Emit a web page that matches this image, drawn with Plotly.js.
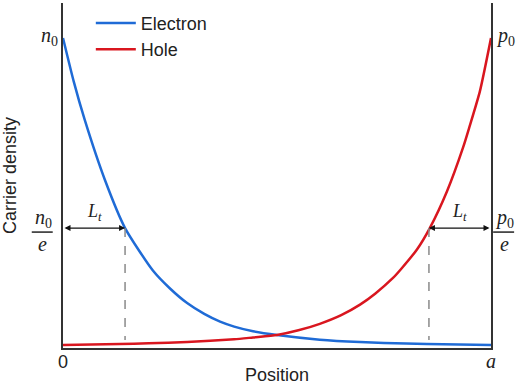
<!DOCTYPE html>
<html>
<head>
<meta charset="utf-8">
<script src="https://cdn.plot.ly/plotly-3.0.1.min.js"></script>
<style>html,body{margin:0;padding:0;background:#fff;}</style>
</head>
<body>
<div id="chart" style="width:520px;height:385px;"></div>
<script>
// Position axis: 0 .. a (normalised to 0..1); density normalised so n0 = p0 = 1
const posElectron = [0, 0.025, 0.051, 0.098, 0.145, 0.210, 0.250, 0.290, 0.330, 0.367, 0.400, 0.444, 0.500, 0.600, 0.694, 0.750, 0.850, 1.0];
const electron    = [1.0, 0.860, 0.735, 0.542, 0.387, 0.250, 0.192, 0.145, 0.110, 0.085, 0.069, 0.054, 0.042, 0.027, 0.019, 0.016, 0.013, 0.010];
const posHole     = [0, 0.133, 0.200, 0.290, 0.400, 0.444, 0.500, 0.550, 0.600, 0.650, 0.694, 0.730, 0.771, 0.790, 0.827, 0.857, 0.897, 0.935, 0.950, 0.974, 1.0];
const hole        = [0.010, 0.013, 0.015, 0.019, 0.028, 0.034, 0.042, 0.057, 0.078, 0.106, 0.140, 0.176, 0.226, 0.255, 0.318, 0.387, 0.505, 0.648, 0.715, 0.828, 1.0];
const seriesNames = ["Electron", "Hole"];
const diffusionEnds = [0.145, 0.855];   // where density falls to n0/e, p0/e
const levelOverE = [0.387];             // n0/e = p0/e level
const dashBottom = [0.026];
const tickLabelsLeft = ["<i>n</i><sub>0</sub>"];
const tickLabelsRight = ["<i>p</i><sub>0</sub>"];
const xTickLabels = ["0", "<i>a</i>"];

const blue = "#1f6bd6", red = "#d9161f";
const sans = "Liberation Sans, Arial, sans-serif";
const serif = "Liberation Serif, Times New Roman, serif";

const traces = [
  {x: posElectron, y: electron, name: seriesNames[0], type: "scatter", mode: "lines",
   line: {color: blue, width: 2.5, shape: "spline", smoothing: 0.6}},
  {x: posHole, y: hole, name: seriesNames[1], type: "scatter", mode: "lines",
   line: {color: red, width: 2.5, shape: "spline", smoothing: 0.6}}
];

const shapes = [];
diffusionEnds.forEach(xv => {
  shapes.push({type: "line", xref: "x", yref: "y", x0: xv, x1: xv, y0: levelOverE[0], y1: dashBottom[0],
               line: {color: "#8a8a8a", width: 1.5, dash: "dash"}});
});
// fraction bars for n0/e and p0/e
shapes.push({type: "line", xref: "paper", yref: "paper", x0: -0.073, x1: -0.024, y0: 0.336, y1: 0.336,
             line: {color: "#222", width: 1.5}});
shapes.push({type: "line", xref: "paper", yref: "paper", x0: 1.005, x1: 1.054, y0: 0.336, y1: 0.336,
             line: {color: "#222", width: 1.5}});

const annotations = [
  // double arrows (Lt)
  {x: diffusionEnds[0], y: levelOverE[0], ax: 0, ay: levelOverE[0], xref: "x", yref: "y", axref: "x", ayref: "y",
   text: "", showarrow: true, arrowhead: 2, startarrowhead: 2, arrowside: "end+start", arrowsize: 1, arrowwidth: 1.2, arrowcolor: "#111"},
  {x: diffusionEnds[1], y: levelOverE[0], ax: 1, ay: levelOverE[0], xref: "x", yref: "y", axref: "x", ayref: "y",
   text: "", showarrow: true, arrowhead: 2, startarrowhead: 2, arrowside: "end+start", arrowsize: 1, arrowwidth: 1.2, arrowcolor: "#111"},
  {x: diffusionEnds[0] / 2, y: levelOverE[0], xref: "x", yref: "y", yshift: 16, showarrow: false,
   text: "<i>L</i><sub><i>t</i></sub>", font: {family: serif, size: 18, color: "#222"}},
  {x: (1 + diffusionEnds[1]) / 2, y: levelOverE[0], xref: "x", yref: "y", yshift: 16, showarrow: false,
   text: "<i>L</i><sub><i>t</i></sub>", font: {family: serif, size: 18, color: "#222"}},
  // left labels
  {x: 0, y: electron[0], xref: "x", yref: "y", xanchor: "right", xshift: -3, yshift: 2, showarrow: false,
   text: tickLabelsLeft[0], font: {family: serif, size: 20, color: "#222"}},
  {x: 0, y: levelOverE[0], xref: "x", yref: "y", xanchor: "center", xshift: -20, yshift: 10, showarrow: false,
   text: tickLabelsLeft[0], font: {family: serif, size: 20, color: "#222"}},
  {x: 0, y: levelOverE[0], xref: "x", yref: "y", xanchor: "center", xshift: -21, yshift: -16, showarrow: false,
   text: "<i>e</i>", font: {family: serif, size: 20, color: "#222"}},
  // right labels
  {x: 1, y: hole[hole.length - 1], xref: "x", yref: "y", xanchor: "left", xshift: 3, yshift: 2, showarrow: false,
   text: tickLabelsRight[0], font: {family: serif, size: 20, color: "#222"}},
  {x: 1, y: levelOverE[0], xref: "x", yref: "y", xanchor: "center", xshift: 13, yshift: 10, showarrow: false,
   text: tickLabelsRight[0], font: {family: serif, size: 20, color: "#222"}},
  {x: 1, y: levelOverE[0], xref: "x", yref: "y", xanchor: "center", xshift: 13, yshift: -16, showarrow: false,
   text: "<i>e</i>", font: {family: serif, size: 20, color: "#222"}},
  // x tick labels
  {x: 0, y: 0, xref: "x", yref: "y", yanchor: "top", yshift: -2, showarrow: false,
   text: xTickLabels[0], font: {family: sans, size: 18, color: "#222"}},
  {x: 1, y: 0, xref: "x", yref: "y", yanchor: "top", yshift: 0, showarrow: false,
   text: xTickLabels[1], font: {family: serif, size: 20, color: "#222"}}
];

const layout = {
  width: 520, height: 385,
  margin: {l: 63, r: 29, t: 3, b: 37, pad: 0},
  paper_bgcolor: "#fff", plot_bgcolor: "#fff",
  font: {family: sans, size: 18, color: "#222"},
  showlegend: true,
  legend: {x: 0.065, y: 0.995, xanchor: "left", yanchor: "top", bgcolor: "rgba(0,0,0,0)",
           font: {family: sans, size: 18, color: "#222"}, itemwidth: 40, tracegroupgap: 0},
  xaxis: {range: [0, 1], showgrid: false, zeroline: false, showticklabels: false, ticks: "",
          showline: true, linecolor: "#333", linewidth: 2, mirror: false, fixedrange: true,
          title: {text: "Position", font: {family: sans, size: 18, color: "#222"}, standoff: 19}},
  yaxis: {range: [0, 1.113], showgrid: false, zeroline: false, showticklabels: false, ticks: "",
          showline: true, linecolor: "#333", linewidth: 2, mirror: true, fixedrange: true,
          title: {text: "Carrier density", font: {family: sans, size: 18, color: "#222"}, standoff: 40}},
  shapes: shapes,
  annotations: annotations
};

Plotly.newPlot("chart", traces, layout, {displayModeBar: false, staticPlot: true});
</script>
</body>
</html>
